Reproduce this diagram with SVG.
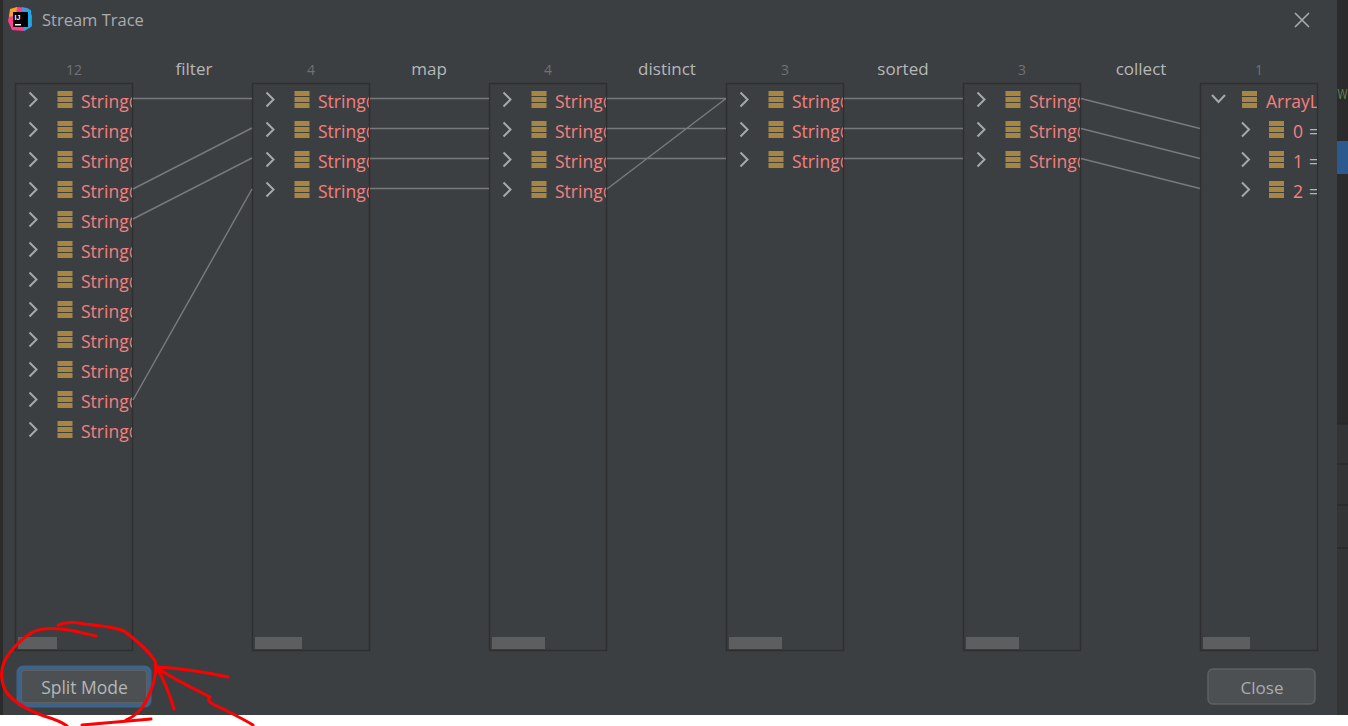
<svg xmlns="http://www.w3.org/2000/svg" width="1348" height="726" viewBox="0 0 1348 726">
<style>
text{font-family:"Open Sans","Noto Sans","Liberation Sans",sans-serif}
.col{fill:#3c3f41;stroke:#2f2f2f;stroke-width:1.5}
.cnt{fill:#6f7274;font-size:14px;text-anchor:middle}
.op{fill:#b4b8ba;font-size:17px;text-anchor:middle}
.v{fill:#f77f7f;font-size:17.5px}
.eq{fill:#a9b7c6;font-size:17.5px}
.chev{fill:none;stroke:#a6a8aa;stroke-width:2}
.bar{fill:#a8863f}
.sb{fill:#5c5e60}
.conn{fill:none;stroke:#77797b;stroke-width:1.5}
.red{fill:none;stroke:#f00;stroke-width:3;stroke-linecap:round;stroke-linejoin:round}
.btn{fill:#4c5052;stroke:#5e6060;stroke-width:1.5}
</style>
<defs>
<g id="ic"><rect class="bar" x="0" y="0" width="15" height="5"/><rect class="bar" x="0" y="6" width="15" height="5"/><rect class="bar" x="0" y="12" width="15" height="5"/></g>
<path id="ch" class="chev" d="M0 0L7 7L0 14"/>
<g id="row"><use href="#ch" x="29.5" y="-6.500"/><use href="#ic" x="57.5" y="-8"/></g>
<clipPath id="c1"><rect x="16" y="84" width="116" height="566"/></clipPath>
<clipPath id="c2"><rect x="253" y="84" width="116" height="566"/></clipPath>
<clipPath id="c3"><rect x="490" y="84" width="116" height="566"/></clipPath>
<clipPath id="c4"><rect x="727" y="84" width="116" height="566"/></clipPath>
<clipPath id="c5"><rect x="964" y="84" width="116" height="566"/></clipPath>
<clipPath id="c6"><rect x="1201" y="84" width="116" height="566"/></clipPath>
</defs>
<rect width="1348" height="726" fill="#ffffff"/>
<rect x="0" y="0" width="1348" height="715" fill="#2b2b2b"/>
<g id="backdrop">
<rect x="1337" y="141" width="11" height="33" fill="#2d5a8e"/>
<rect x="1337" y="424" width="11" height="291" fill="#323436"/>
<path d="M1337 424H1348M1337 464H1348M1337 505H1348M1337 548H1348" stroke="#292a2b" stroke-width="1.5"/>
<text x="1337.500" y="99" font-size="14" fill="#5f8a4a" textLength="10" lengthAdjust="spacingAndGlyphs">W</text>
</g>
<rect id="window" x="3" y="0" width="1334" height="715" fill="#3c3f41"/>
<g id="titlebar">
<path d="M10 12L17 7L28 8L32 16L31 27L24 31L12 30L8 21Z" fill="#ff3d8b"/>
<path d="M22 7L31 10L32 26L24 31Z" fill="#1ea8e8"/>
<path d="M10 9L17 7L16 15L9 17Z" fill="#f9a02a"/>
<rect x="13" y="12" width="15" height="15" fill="#000"/>
<rect x="15" y="24" width="6" height="1.5" fill="#fff"/>
<text x="14.500" y="20" font-size="7" font-weight="700" fill="#fff" style="font-family:'Liberation Sans',sans-serif">IJ</text>
<text x="42" y="26" font-size="16.500" fill="#a9adb0">Stream Trace</text>
<path d="M1295 13L1309 27M1309 13L1295 27" stroke="#a8aaac" stroke-width="1.6" fill="none"/>
</g>
<g id="labels">
<text class="cnt" x="74" y="75">12</text><text class="op" x="194" y="75">filter</text>
<text class="cnt" x="311" y="75">4</text><text class="op" x="429" y="75">map</text>
<text class="cnt" x="548" y="75">4</text><text class="op" x="667" y="75">distinct</text>
<text class="cnt" x="785" y="75">3</text><text class="op" x="903" y="75">sorted</text>
<text class="cnt" x="1022" y="75">3</text><text class="op" x="1141" y="75">collect</text>
<text class="cnt" x="1259" y="75">1</text>
</g>
<g id="col-source">
<rect class="col" x="15.500" y="83.500" width="117" height="567"/>
<use href="#row" y="99"/><use href="#row" y="129"/><use href="#row" y="159"/><use href="#row" y="189"/><use href="#row" y="219"/><use href="#row" y="249"/><use href="#row" y="279"/><use href="#row" y="309"/><use href="#row" y="339"/><use href="#row" y="369"/><use href="#row" y="399"/><use href="#row" y="429"/>
<g clip-path="url(#c1)">
<text class="v" x="81" y="108">String@</text><text class="v" x="81" y="138">String@</text><text class="v" x="81" y="168">String@</text><text class="v" x="81" y="198">String@</text><text class="v" x="81" y="228">String@</text><text class="v" x="81" y="258">String@</text><text class="v" x="81" y="288">String@</text><text class="v" x="81" y="318">String@</text><text class="v" x="81" y="348">String@</text><text class="v" x="81" y="378">String@</text><text class="v" x="81" y="408">String@</text><text class="v" x="81" y="438">String@</text>
</g>
<rect class="sb" x="18" y="637" width="39" height="12"/>
</g>
<g id="col-filter">
<rect class="col" x="252.500" y="83.500" width="117" height="567"/>
<g transform="translate(237 0)"><use href="#row" y="99"/><use href="#row" y="129"/><use href="#row" y="159"/><use href="#row" y="189"/></g>
<g clip-path="url(#c2)"><text class="v" x="318" y="108">String@</text><text class="v" x="318" y="138">String@</text><text class="v" x="318" y="168">String@</text><text class="v" x="318" y="198">String@</text></g>
<rect class="sb" x="255" y="637" width="47" height="12"/>
</g>
<g id="col-map">
<rect class="col" x="489.500" y="83.500" width="117" height="567"/>
<g transform="translate(474 0)"><use href="#row" y="99"/><use href="#row" y="129"/><use href="#row" y="159"/><use href="#row" y="189"/></g>
<g clip-path="url(#c3)"><text class="v" x="555" y="108">String@</text><text class="v" x="555" y="138">String@</text><text class="v" x="555" y="168">String@</text><text class="v" x="555" y="198">String@</text></g>
<rect class="sb" x="492" y="637" width="53" height="12"/>
</g>
<g id="col-distinct">
<rect class="col" x="726.500" y="83.500" width="117" height="567"/>
<g transform="translate(711 0)"><use href="#row" y="99"/><use href="#row" y="129"/><use href="#row" y="159"/></g>
<g clip-path="url(#c4)"><text class="v" x="792" y="108">String@</text><text class="v" x="792" y="138">String@</text><text class="v" x="792" y="168">String@</text></g>
<rect class="sb" x="729" y="637" width="53" height="12"/>
</g>
<g id="col-sorted">
<rect class="col" x="963.500" y="83.500" width="117" height="567"/>
<g transform="translate(948 0)"><use href="#row" y="99"/><use href="#row" y="129"/><use href="#row" y="159"/></g>
<g clip-path="url(#c5)"><text class="v" x="1029" y="108">String@</text><text class="v" x="1029" y="138">String@</text><text class="v" x="1029" y="168">String@</text></g>
<rect class="sb" x="966" y="637" width="53" height="12"/>
</g>
<g id="col-collect">
<rect class="col" x="1200.500" y="83.500" width="117" height="567"/>
<path class="chev" d="M1212 95L1218.500 102L1225 95"/>
<use href="#ic" x="1242" y="91"/>
<use href="#ch" x="1242" y="122.500"/><use href="#ic" x="1269" y="121"/>
<use href="#ch" x="1242" y="152.500"/><use href="#ic" x="1269" y="151"/>
<use href="#ch" x="1242" y="182.500"/><use href="#ic" x="1269" y="181"/>
<g clip-path="url(#c6)">
<text class="v" x="1266" y="108">ArrayList</text>
<text class="v" x="1293" y="138">0</text><text class="eq" x="1309" y="138">=</text>
<text class="v" x="1293" y="168">1</text><text class="eq" x="1309" y="168">=</text>
<text class="v" x="1293" y="198">2</text><text class="eq" x="1309" y="198">=</text>
</g>
<rect class="sb" x="1203" y="637" width="47" height="12"/>
</g>
<g id="connectors">
<path class="conn" d="M133 98.500H252M133 189L252 128M133 219L252 158M133 400L252 189"/>
<path class="conn" d="M370 98.500H489M370 128.500H489M370 158.500H489M370 188.500H489"/>
<path class="conn" d="M607 98.500H726M607 128.500H726M607 158.500H726M607 189L726 98.500"/>
<path class="conn" d="M844 98.500H963M844 128.500H963M844 158.500H963"/>
<path class="conn" d="M1081 98.500L1200 128.500M1081 128.500L1200 158.500M1081 158.500L1200 188.500"/>
</g>
<g id="buttons">
<rect x="18" y="667" width="132" height="39" rx="5" fill="#3f6288" stroke="#3f6288" stroke-width="3"/>
<rect x="21.500" y="670.500" width="125" height="32" rx="3" fill="#4c5052" stroke="#5e6162" stroke-width="1"/>
<text x="84.500" y="693.500" font-size="17.500" fill="#b4b7b8" text-anchor="middle">Split Mode</text>
<rect class="btn" x="1208" y="669" width="107" height="35" rx="5"/>
<text x="1262" y="693.500" font-size="17" fill="#a9adb0" text-anchor="middle">Close</text>
</g>
<g id="annotation">
<path class="red" d="M96 636C85 634 75 630 60 629C50 628 42 628 33 632C22 638 10 650 4 662C0 672 1 684 7 693C15 703 30 711 44 716C54 719 62 722 67 726"/>
<path class="red" d="M58 625C66 622 76 622 84 624C100 626 112 626 124 631C136 640 148 650 155 661C157 668 155 680 151 690C147 702 140 712 132 717L126 720"/>
<path class="red" d="M82 725L151 719"/>
<path class="red" d="M157 667C175 668 200 671 228 677"/>
<path class="red" d="M157 668C163 678 169 692 174 709"/>
<path class="red" d="M157 668C172 678 190 687 210 697C205 702 215 705 225 710C235 715 245 720 253 725"/>
</g>
</svg>
